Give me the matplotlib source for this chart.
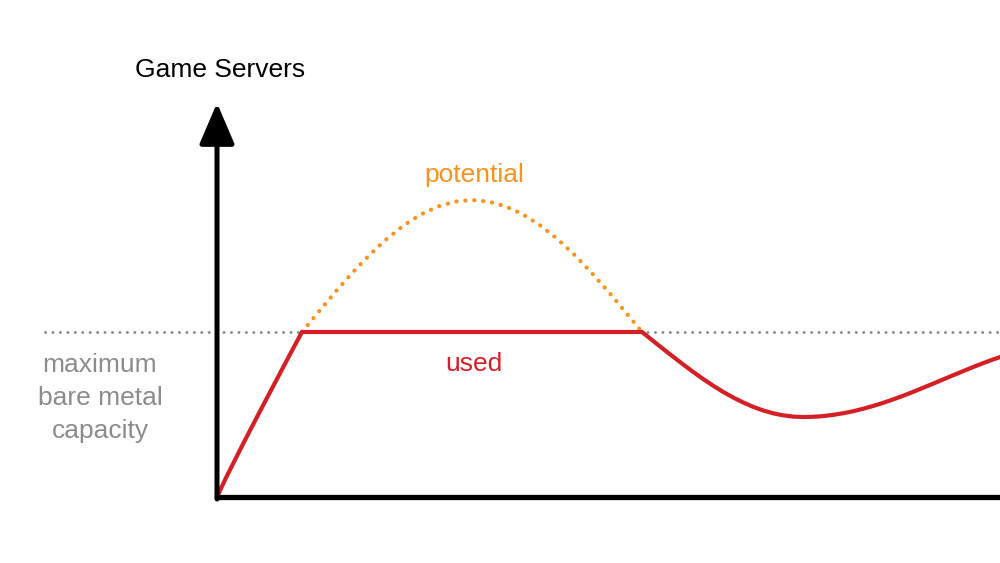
import matplotlib
matplotlib.use("Agg")
import matplotlib.pyplot as plt

plt.rcParams['font.family'] = ['Liberation Sans', 'DejaVu Sans']

# data in pixel-offset units from the origin (x right, y up)
capacity = 165
x_span = 783
y_top = 394

used_x = [0, 8.5, 17, 25.5, 34, 42.5, 51, 59.5, 68, 76.5, 85,
          425, 436, 446, 456, 466, 476, 486, 496, 506, 516, 526, 536, 546, 556,
          566, 576, 586,
          596, 606, 616, 626, 636, 646, 656, 666, 676, 686, 696, 706, 716, 726,
          736, 746, 756, 766, 776, 783]
used_y = [0, 18.2, 35.2, 52.0, 68.5, 84.8, 101.0, 117.1, 133.2, 149.2, 165,
          165, 156.2, 148.2, 140.4, 132.7, 125.2, 118.1, 111.4, 105.2, 99.6,
          94.6, 90.2, 86.6, 83.7, 81.7, 80.4, 80,
          80.2, 80.9, 82.1, 83.7, 85.7, 88.2, 91.0, 94.1, 97.5, 101.2, 105.1,
          109.2, 113.3, 117.5, 121.7, 125.8, 129.9, 133.8, 137.5, 139.9]

potential_x = [85, 102, 119, 136, 153, 170, 187, 204, 221, 238, 255,
               272, 289, 306, 323, 340, 357, 374, 391, 408, 425]
potential_y = [165, 185.6, 205.8, 224.9, 242.6, 258.3, 271.8, 282.6, 290.5, 295.4, 297,
               295.4, 290.5, 282.6, 271.8, 258.3, 242.6, 224.9, 205.8, 185.6, 165]

cap_x = [-172, 783]
cap_y = [capacity, capacity]

fig = plt.figure(figsize=(10, 5.63), dpi=100)
ax = fig.add_axes([0, 0, 1, 1])
ax.set_xlim(-217, 783)
ax.set_ylim(-66, 497)
ax.axis('off')

ax.plot(cap_x, cap_y, color='#8a8a8a', lw=2.1, linestyle=(0, (0.05, 2.5)),
        dash_capstyle='round', zorder=1)
ax.plot(potential_x, potential_y, color='#F7931E', lw=3.0,
        linestyle=(0, (0.05, 2.1)), dash_capstyle='round', zorder=2)
ax.plot(used_x, used_y, color='#D41F26', lw=3.0, solid_joinstyle='miter', zorder=3)

# axes
ax.plot([0, x_span], [0, 0], color='black', lw=3.8, solid_capstyle='butt', zorder=4)
ax.annotate('', xy=(0, y_top), xytext=(0, -2),
            arrowprops=dict(arrowstyle='-|>,head_length=1.26,head_width=0.54',
                            lw=3.6, color='black', shrinkA=0, shrinkB=0,
                            mutation_scale=20), zorder=4)

ax.text(3, 427, 'Game Servers', ha='center', va='center', fontsize=19, color='black')
ax.text(257, 322, 'potential', ha='center', va='center', fontsize=19, color='#F7931E')
ax.text(257, 133, 'used', ha='center', va='center', fontsize=19, color='#D41F26')
ax.text(-117, 99, 'maximum\nbare metal\ncapacity', ha='center', va='center',
        fontsize=19, color='#8c8c8c', linespacing=1.47)

fig.savefig('out.png', dpi=100)
